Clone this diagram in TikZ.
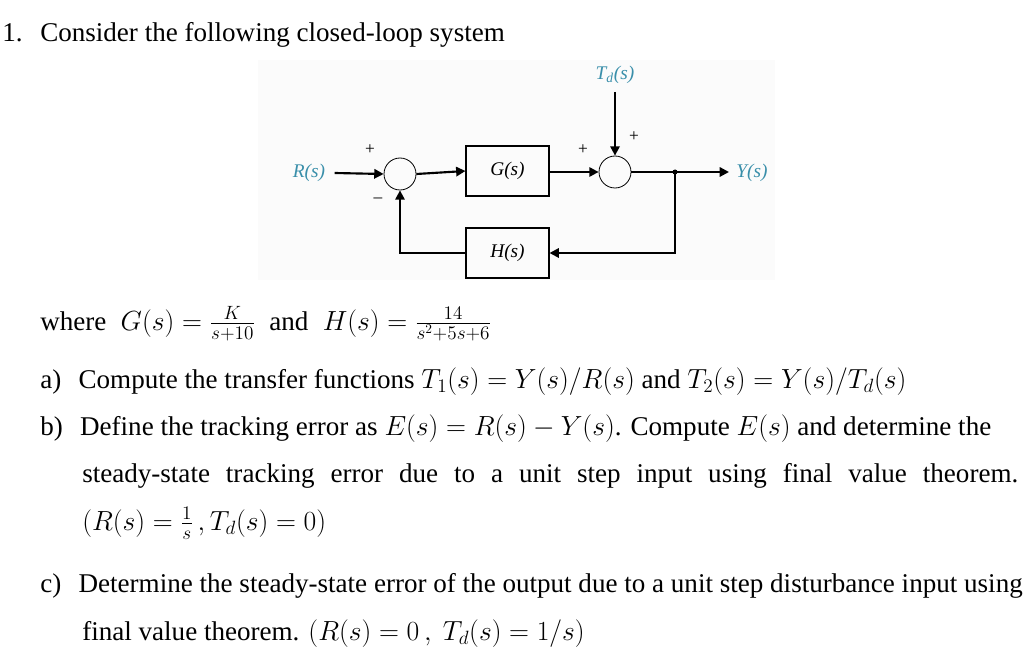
\documentclass[tikz,border=0pt]{standalone}
\usepackage{fontspec}
\setmainfont{Liberation Serif}
\usetikzlibrary{arrows.meta}
\begin{document}
\begin{tikzpicture}[x=0.75pt,y=-0.75pt,
  txt/.style={anchor=base west,inner sep=0pt,font=\fontsize{20.3}{24}\selectfont},
  lab/.style={font=\fontsize{14.5}{16}\selectfont\itshape,inner sep=1pt},
  sig/.style={lab,text=sigblue},
  blk/.style={draw,line width=0.8pt,minimum width=62.25pt,minimum height=37.5pt,font=\fontsize{14.5}{16}\selectfont\itshape},
  sumc/.style={draw,circle,line width=0.6pt,minimum size=24pt,inner sep=0pt},
  wire/.style={line width=1.6pt},
  arr/.style={wire,-{Triangle[length=7pt,width=7pt]}}]
\definecolor{sigblue}{HTML}{3A8FAA}
\useasboundingbox (0,0) rectangle (1024,652);
\fill[gray!3] (258,60) rectangle (775,280);
% diagram
\node[sumc] (s1) at (400,174) {};
\node[sumc] (s2) at (615,172) {};
\node[blk] (G) at (507.5,171) {G(s)};
\node[blk] (H) at (507.5,253) {H(s)};
\node[sig] (R) at (309,173) {R(s)};
\node[sig] (Y) at (752,173) {Y(s)};
\node[sig] (Td) at (615,75) {T\textsubscript{d}(s)};
\coordinate (Tt) at (615,92);
\coordinate (br) at (675,172);
\coordinate (Yend) at (729,172);
\draw[arr] ([xshift=6pt]R.east) -- (s1.west);
\draw[arr] (s1.east) -- (G.west);
\draw[arr] (G.east |- s2.west) -- (s2.west);
\draw[arr] (Tt) -- (s2.north);
\draw[wire] (s2.east) -- (br);
\draw[arr] (br) -- (Yend);
\fill (br) circle (2.5);
\draw[arr] (br) |- (H.east);
\draw[arr] (H.west) -| (s1.south);
\node[lab,font=\fontsize{13}{14}\selectfont] (p1) at (370,150) {+};
\node[lab,font=\fontsize{13}{14}\selectfont] (m1) at (378,200) {--};
\node[lab,font=\fontsize{13}{14}\selectfont] (p2) at (583,150) {+};
\node[lab,font=\fontsize{13}{14}\selectfont] (p3) at (634,137) {+};
% text
\node[txt] (t1a) at (2,42) {1.};
\node[txt] (t1) at (40,42) {Consider the following closed-loop system};
\node[txt] (t2) at (40,330) {where\; $G(s)=\frac{K}{s+10}$\; and\; $H(s)=\frac{14}{s^2+5s+6}$};
\node[txt] (ta) at (40,388) {a)\hspace{13pt}Compute the transfer functions $T_1(s)=Y(s)/R(s)$ and $T_2(s)=Y(s)/T_d(s)$};
\node[txt] (tb) at (40,435) {b)\hspace{13pt}Define the tracking error as $E(s)=R(s)-Y(s)$. Compute $E(s)$ and determine the};
\node[txt] (tb2) at (82,482) {\makebox[702pt][s]{steady-state tracking error due to a unit step input using final value theorem.}};
\node[txt] (tb3) at (82,530) {$\Bigl(R(s)=\frac{1}{s}\,,T_d(s)=0\Bigr)$};
\node[txt] (tc) at (40,592) {c)\hspace{13pt}Determine the steady-state error of the output due to a unit step disturbance input using};
\node[txt] (tc2) at (82,640) {final value theorem. $(R(s)=0\,,\ T_d(s)=1/s)$};
\end{tikzpicture}
\end{document}
